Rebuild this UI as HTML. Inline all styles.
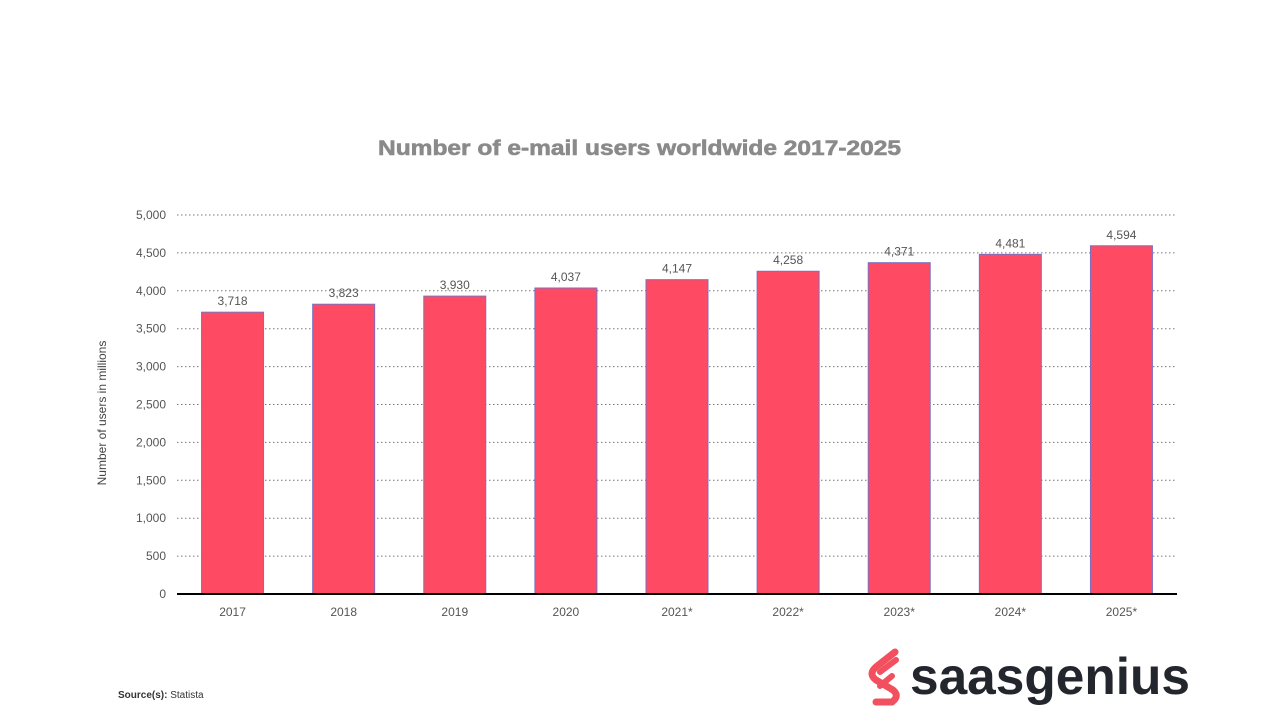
<!DOCTYPE html>
<html><head><meta charset="utf-8"><style>
body{margin:0;width:1280px;height:720px;background:#fff;overflow:hidden;font-family:"Liberation Sans",sans-serif}
</style></head><body>
<svg width="1280" height="720">
<text x="378" y="155" font-size="21" font-weight="bold" fill="#8a8a8a" textLength="523" lengthAdjust="spacingAndGlyphs" stroke="#8a8a8a" stroke-width="0.6">Number of e-mail users worldwide 2017-2025</text>
<text transform="translate(106,413) rotate(-90)" text-anchor="middle" font-size="12" fill="#444">Number of users in millions</text>
<g id="grid"></g><g id="bars"></g>
<text x="118" y="698" font-size="10" fill="#333"><tspan font-weight="bold">Source(s):</tspan> Statista</text>
<g>
<path d="M895 652 L876 667 Q868 674 876 680 L893 690 Q900 696 892 702 L876 702" stroke="#f2505f" stroke-width="7" fill="none" stroke-linecap="round"/>
<path d="M896 660 L880 672 M892 676 L880 686" stroke="#f2505f" stroke-width="6" fill="none" stroke-linecap="round"/>
<text x="910" y="694" font-size="52" font-weight="600" fill="#23262d" textLength="280" lengthAdjust="spacingAndGlyphs">saasgenius</text>
</g>
</svg>
<script>
const categories=["2017","2018","2019","2020","2021*","2022*","2023*","2024*","2025*"];
const values=[3718,3823,3930,4037,4147,4258,4371,4481,4594];
const ticks=[0,500,1000,1500,2000,2500,3000,3500,4000,4500,5000];
const NS="http://www.w3.org/2000/svg";
const x0=177,x1=1177,y0=594,yTop=215,maxV=5000;
const y=v=>y0-(v/maxV)*(y0-yTop);
const slot=(x1-x0)/categories.length;
const xc=i=>x0+slot*(i+0.5);
function el(t,a,p,txt){const e=document.createElementNS(NS,t);for(const k in a)e.setAttribute(k,a[k]);if(txt!=null)e.textContent=txt;p.appendChild(e);return e;}
const g=document.getElementById('grid'),b=document.getElementById('bars');
ticks.forEach(t=>{
 if(t>0){const l=el('line',{x1:x0,x2:x1,y1:y(t),y2:y(t),stroke:'#777','stroke-dasharray':'1.5 2.5'},g);
 
 }
 const tx=el('text',{x:166,y:y(t)+4,'text-anchor':'end','font-size':12,fill:'#555'},g,t.toLocaleString('en-US'));
 
 
});
values.forEach((v,i)=>{
 const r=el('rect',{x:xc(i)-31,y:y(v),width:62,height:y0-y(v),fill:'#fe4a62',stroke:'#7b70c0','stroke-width':1},b);
 
 
 const lb=el('text',{x:xc(i),y:y(v)-7,'text-anchor':'middle','font-size':12,fill:'#555'},b,v.toLocaleString('en-US'));
 
 
 const cl=el('text',{x:xc(i),y:616,'text-anchor':'middle','font-size':12,fill:'#555'},b,categories[i]);
 
 
});
const ax=el('line',{x1:x0,x2:x1,y1:y0,y2:y0,stroke:'#000','stroke-width':2},b);


</script>
</body></html>
